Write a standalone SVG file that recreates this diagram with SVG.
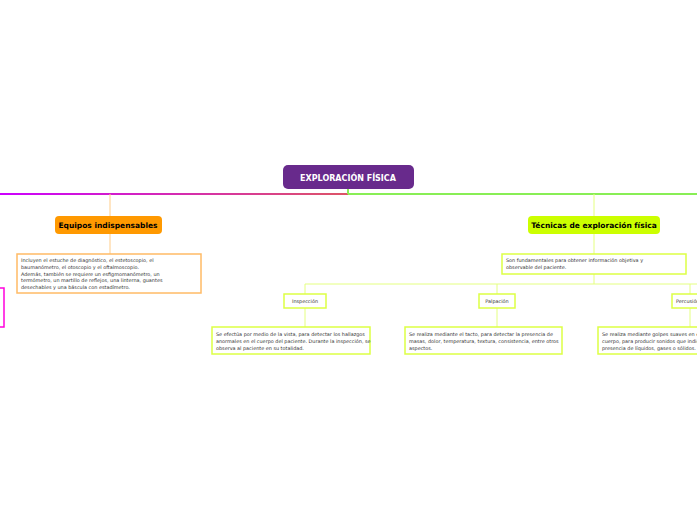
<svg xmlns="http://www.w3.org/2000/svg" width="697" height="520" viewBox="0 0 697 520">
<style>
.t{font-family:"DejaVu Sans",sans-serif;font-size:4.9px;fill:#333}
.b{font-family:"DejaVu Sans",sans-serif;font-weight:bold;font-size:7.5px;text-anchor:middle}
.g{fill:#fff;stroke:#ddff44;stroke-width:1.5}
.l{fill:none;stroke:#e4ff80;stroke-width:1}
</style>
<defs><linearGradient id="lg" x1="0" x2="1"><stop offset="0" stop-color="#cc00ff"/><stop offset="1" stop-color="#dd5566"/></linearGradient></defs>
<rect width="697" height="520" fill="#fff"/>
<g id="connectors">
<rect x="0" y="193" width="348" height="2" fill="url(#lg)"/>
<path d="M348 194H697" stroke="#88ee55" stroke-width="2"/>
<path d="M348 189V194" stroke="#88ee55" stroke-width="2"/>
<path d="M110 194V216M110 234V254" stroke="#ffcc88" stroke-width="1"/>
<path d="M594 194V216M594 234V254M594 274V284M305 284H697M305 284V294M497 284V294M690 284V294M305 308V327M497 308V327M690 308V327" class="l"/>
</g>
<g id="root"><rect x="283" y="165" width="131" height="24" rx="5" fill="#682a8c"/><text x="348" y="180.5" class="b" fill="#fff" style="font-size:8px">EXPLORACIÓN FÍSICA</text></g>
<g id="equipos"><rect x="55" y="216" width="107" height="18" rx="4" fill="#ff9900"/><text x="108" y="228" class="b">Equipos indispensables</text></g>
<g id="equipos-text"><rect x="17" y="254" width="184" height="39" fill="#fff" stroke="#ffbb66" stroke-width="1.5"/>
<text class="t" x="21" y="262">Incluyen el estuche de diagnóstico, el estetoscopio, el</text>
<text class="t" x="21" y="269">baumanómetro, el otoscopio y el oftalmoscopio.</text>
<text class="t" x="21" y="275.5">Además, también se requiere un esfigmomanómetro, un</text>
<text class="t" x="21" y="282">termómetro, un martillo de reflejos, una linterna, guantes</text>
<text class="t" x="21" y="288.5">desechables y una báscula con estadímetro.</text></g>
<g id="left-partial"><rect x="-10" y="288" width="14" height="39" fill="#fff" stroke="#ff00dd" stroke-width="1.5"/></g>
<g id="tecnicas"><rect x="528" y="216" width="132" height="18" rx="4" fill="#ccff00"/><text x="594" y="228" class="b">Técnicas de exploración física</text></g>
<g id="tecnicas-text"><rect class="g" x="502" y="254" width="184" height="20"/>
<text class="t" x="506" y="262">Son fundamentales para obtener información objetiva y</text>
<text class="t" x="506" y="269">observable del paciente.</text></g>
<g id="inspeccion"><rect class="g" x="284" y="294" width="42" height="14"/><text class="t" x="305" y="303" text-anchor="middle">Inspección</text></g>
<g id="palpacion"><rect class="g" x="479" y="294" width="36" height="14"/><text class="t" x="497" y="303" text-anchor="middle">Palpación</text></g>
<g id="percusion"><rect class="g" x="672" y="294" width="40" height="14"/><text class="t" x="676" y="303">Percusión</text></g>
<g id="inspeccion-text"><rect class="g" x="212" y="327" width="158" height="27"/>
<text class="t" x="216" y="336">Se efectúa por medio de la vista, para detectar los hallazgos</text>
<text class="t" x="216" y="343">anormales en el cuerpo del paciente. Durante la inspección, se</text>
<text class="t" x="216" y="350">observa al paciente en su totalidad.</text></g>
<g id="palpacion-text"><rect class="g" x="405" y="327" width="157" height="27"/>
<text class="t" x="409" y="336">Se realiza mediante el tacto, para detectar la presencia de</text>
<text class="t" x="409" y="343">masas, dolor, temperatura, textura, consistencia, entre otros</text>
<text class="t" x="409" y="350">aspectos.</text></g>
<g id="percusion-text"><rect class="g" x="598" y="327" width="110" height="27"/>
<text class="t" x="602" y="336">Se realiza mediante golpes suaves en el</text>
<text class="t" x="602" y="343">cuerpo, para producir sonidos que indican</text>
<text class="t" x="602" y="350">presencia de líquidos, gases o sólidos.</text></g>
</svg>
